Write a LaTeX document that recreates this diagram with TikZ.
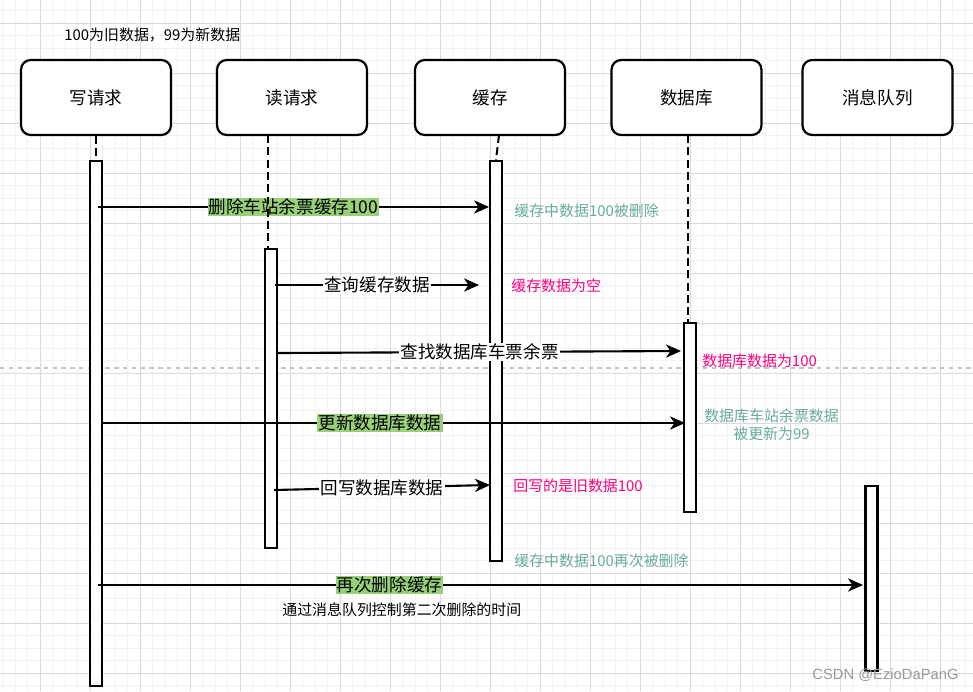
\documentclass[tikz,border=0pt]{standalone}
\usepackage{fontspec}
\setmainfont{Noto Sans CJK SC}
\newfontfamily\markfont{Liberation Sans}
\usetikzlibrary{arrows.meta}

\definecolor{labelgreen}{HTML}{97D077}
\definecolor{noteteal}{HTML}{67AB9F}
\definecolor{notepink}{HTML}{FF0080}
\definecolor{gridminor}{HTML}{F2F2F2}
\definecolor{gridmajor}{HTML}{D9D9D9}
\definecolor{breakgray}{HTML}{C4C4C4}

\tikzset{
  lifebox/.style={draw, line width=1.25pt, rounded corners=5.5pt, fill=white,
    minimum width=3cm, minimum height=1.5cm, font=\fontsize{10}{12}\selectfont},
  actbar/.style={draw, line width=1.3pt, fill=white, minimum width=0.24cm,
    inner sep=0pt, anchor=north},
  lifeline/.style={line width=1.15pt, dash pattern=on 4.5pt off 2.5pt},
  msg/.style={line width=1.2pt, -{Stealth[length=8.5pt,width=7.5pt,inset=2.5pt]}},
  msglabel/.style={fill=white, inner sep=0.6pt, font=\fontsize{10}{12}\selectfont},
  note/.style={inner sep=0pt, anchor=west, font=\fontsize{8.5}{10}\selectfont},
}

\begin{document}
\begin{tikzpicture}[x=0.02cm,y=-0.02cm]
  \useasboundingbox[fill=white] (0,0) rectangle (973,691);

  \foreach \gx in {2.5,15,...,973} \draw[gridminor, line width=0.5pt] (\gx,0) -- (\gx,691);
  \foreach \gy in {10.8,23.3,...,691} \draw[gridminor, line width=0.5pt] (0,\gy) -- (973,\gy);
  \foreach \gx in {40,90,...,973} \draw[gridmajor, line width=0.5pt] (\gx,0) -- (\gx,691);
  \foreach \gy in {23.3,73.3,...,691} \draw[gridmajor, line width=0.5pt] (0,\gy) -- (973,\gy);
  \draw[breakgray, line width=0.6pt, dash pattern=on 2.5pt off 2.5pt] (0,368) -- (973,368);

  \node[note] (title) at (64,35) {100为旧数据，99为新数据};

  \node[lifebox] (wbox) at (96,97.5) {写请求};
  \node[lifebox] (rbox) at (292,97.5) {读请求};
  \node[lifebox] (cbox) at (490,97.5) {缓存};
  \node[lifebox] (dbox) at (686.5,97.5) {数据库};
  \node[lifebox] (mbox) at (877.5,97.5) {消息队列};

  \node[actbar, minimum height=10.5cm] (wbar) at (96,160) {};
  \node[actbar, minimum height=5.98cm] (rbar) at (271,248) {};
  \node[actbar, minimum height=8cm] (cbar) at (496,160) {};
  \node[actbar, minimum height=3.78cm] (dbar) at (690,322) {};
  \node[actbar, minimum height=3.7cm] (mbar) at (871.5,485) {};

  \coordinate (w1) at (98,207);   \coordinate (c1) at (489,207);
  \coordinate (r2) at (275,285);  \coordinate (c2) at (479,285);
  \coordinate (r3) at (278,353);  \coordinate (d3) at (681,351);
  \coordinate (w4) at (103,423);  \coordinate (d4) at (685,423);
  \coordinate (r5) at (274,490);  \coordinate (c5) at (490,485);
  \coordinate (w6) at (98,585);   \coordinate (m6) at (863,585);

  \draw[msg] (w1) -- node[msglabel, fill=labelgreen] (m1) {删除车站余票缓存100} (c1);
  \draw[msg] (r2) -- node[msglabel] (m2) {查询缓存数据} (c2);
  \draw[msg] (r3) -- node[msglabel] (m3) {查找数据库车票余票} (d3);
  \draw[msg] (w4) -- node[msglabel, fill=labelgreen, pos=0.476] (m4) {更新数据库数据} (d4);
  \draw[msg] (r5) -- node[msglabel] (m5) {回写数据库数据} (c5);
  \draw[msg] (w6) -- node[msglabel, fill=labelgreen, pos=0.381] (m6) {再次删除缓存} (m6);

  \coordinate (rtop) at (268,135);
  \coordinate (ctop) at (499,135);
  \coordinate (dtop) at (688,135);
  \draw[lifeline] (wbox.south) -- (wbar.north);
  \draw[lifeline] (rtop) -- (rtop |- rbar.north);
  \draw[lifeline] (ctop) -- (cbar.north);
  \draw[lifeline] (dtop) -- (dtop |- dbar.north);

  \node[note, text=noteteal] (n1) at (514,211) {缓存中数据100被删除};
  \node[note, text=notepink] (n2) at (511,286) {缓存数据为空};
  \node[note, text=notepink] (n3) at (702,360.5) {数据库数据为100};
  \node[note, text=noteteal, anchor=center, align=center] (n4) at (771.5,424.5) {数据库车站余票数据\\被更新为99};
  \node[note, text=notepink] (n5) at (513,486) {回写的是旧数据100};
  \node[note, text=noteteal] (n6) at (514,561) {缓存中数据100再次被删除};
  \node[note] (n7) at (282,610) {通过消息队列控制第二次删除的时间};

  \node[note, text=gray!80, font=\markfont\fontsize{8.4}{10}\selectfont] (mark) at (812,675) {CSDN @EzioDaPanG};
\end{tikzpicture}
\end{document}
